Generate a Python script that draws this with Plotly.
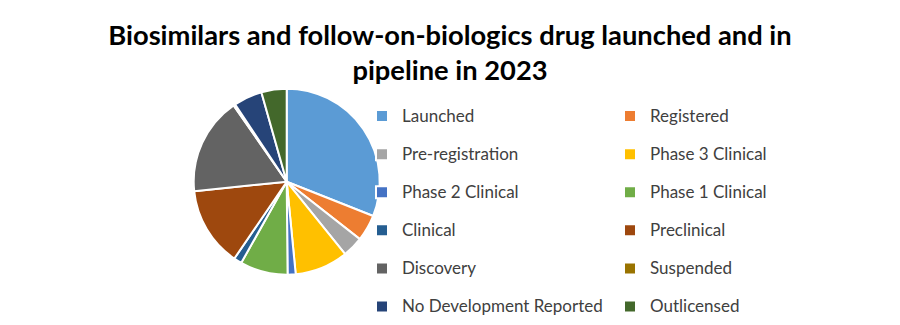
import plotly.graph_objects as go

# Development stages of biosimilars / follow-on biologics (share of total, %)
labels = [
    "Launched", "Registered", "Pre-registration", "Phase 3 Clinical",
    "Phase 2 Clinical", "Phase 1 Clinical", "Clinical", "Preclinical",
    "Discovery", "Suspended", "No Development Reported", "Outlicensed",
]
values = [31.1, 4.6, 3.6, 9.3, 1.4, 8.3, 1.4, 13.9, 17.0, 0.3, 5.0, 4.4]
colors = [
    "#5B9BD5", "#ED7D31", "#A5A5A5", "#FFC000", "#4472C4", "#70AD47",
    "#255E91", "#9E480E", "#636363", "#997300", "#264478", "#43682B",
]

W, H = 900, 325
ML, MR = 100, 280          # plot area 520 px wide -> legend wraps into two columns
PW = W - ML - MR

# pie placement in pixels
cx, cy, r = 286.7, 181.7, 93.0

legend_labels = [
    f'<span style="font-size:17px;baseline-shift:5px">{t}</span>' for t in labels
]

fig = go.Figure(
    go.Pie(
        labels=legend_labels,
        values=values,
        marker=dict(colors=colors, line=dict(color="white", width=2)),
        sort=False,
        direction="clockwise",
        rotation=0,
        textinfo="none",
        hovertemplate="%{value}<extra></extra>",
        domain=dict(
            x=[(cx - r - ML) / PW, (cx + r - ML) / PW],
            y=[(H - cy - r) / H, (H - cy + r) / H],
        ),
    )
)

fig.update_layout(
    width=W,
    height=H,
    paper_bgcolor="white",
    plot_bgcolor="white",
    margin=dict(l=ML, r=MR, t=0, b=0, autoexpand=False),
    title=dict(
        text="<b>Biosimilars and follow-on-biologics drug launched and in<br>pipeline in 2023</b>",
        x=0.5,
        xanchor="center",
        xref="container",
        yref="container",
        y=1 - 45 / H,
        yanchor="top",
        font=dict(family="Lato", size=27.3, color="black"),
    ),
    legend=dict(
        orientation="h",
        x=(362 - ML) / PW,
        xanchor="left",
        y=(H - 92) / H,
        yanchor="top",
        entrywidth=203,
        entrywidthmode="pixels",
        maxheight=1,
        font=dict(family="Lato", size=27, color="#404040"),
        bgcolor="rgba(0,0,0,0)",
    ),
)

fig.write_html("out.html")
